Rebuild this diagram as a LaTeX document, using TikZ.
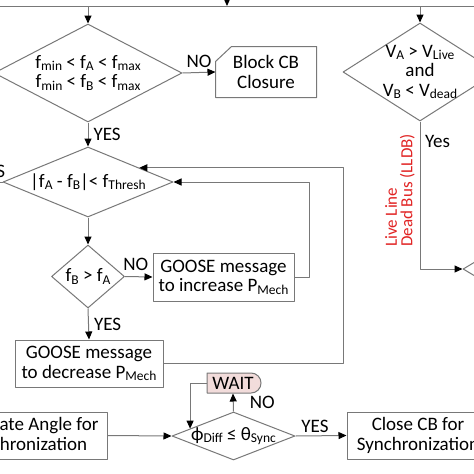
\documentclass[tikz,border=0pt]{standalone}
\usepackage{fontspec}
\setmainfont{Carlito}
\usetikzlibrary{arrows.meta,calc,shapes.geometric,shapes.misc}
\definecolor{lineg}{RGB}{120,120,120}
\definecolor{waitpink}{RGB}{242,220,219}
\definecolor{lldbred}{RGB}{225,35,35}
\newcommand{\subt}[1]{\raisebox{-2.5pt}{\fontsize{13.5}{13.5}\selectfont #1}}

\begin{document}
\begin{tikzpicture}[x=1pt,y=-1pt,>={Triangle[length=8pt,width=7pt,color=black]},
	line join=round,font=\fontsize{19}{19.5}\selectfont,
	wire/.style={draw=lineg,line width=1pt},
	arr/.style={wire,->},
	box/.style 2 args={wire,rectangle,inner sep=0pt,align=center,minimum width=#1,minimum height=#2},
	dia/.style n args={3}{wire,diamond,inner sep=0pt,minimum width=#1,minimum height=#2,
		label={[align=center,inner sep=0pt]center:{#3}}},
	lbl/.style={inner sep=0pt}]
	\useasboundingbox (0,0) rectangle (474,474);
	\clip (0,0) rectangle (474,474);
	\fill[white] (0,0) rectangle (474,474);
	% nodes
	\node[dia={188}{98}{f\subt{min} < f\subt{A} < f\subt{max}\\f\subt{min} < f\subt{B} < f\subt{max}}] (freq) at (88,73) {};
	\node[dia={154}{98}{V\subt{A} > V\subt{Live}\\and\\V\subt{B} < V\subt{dead}}] (live) at (420,72) {};
	\node[box={100}{50},draw=none] (block) at (266,72) {Block CB\\Closure};
	\node[dia={170}{70}{|f\subt{A} - f\subt{B}|< f\subt{Thresh}}] (thresh) at (88,182) {};
	\node[dia={73}{63}{f\subt{B} > f\subt{A}}] (cmp) at (88,276.5) {};
	\node[box={141}{48}] (incr) at (223.5,277) {GOOSE message\\to increase P\subt{Mech}};
	\node[box={148}{47}] (decr) at (89,363.5) {GOOSE message\\to decrease P\subt{Mech}};
	\node[box={162}{47}] (calc) at (26,435.5) {Calculate Angle for\\Synchronization};
	\node[dia={123}{48}{ϕ\subt{Diff} ≤ θ\subt{Sync}}] (sync) at (233.5,436) {};
	\node[wire,rounded rectangle,rounded rectangle west arc=none,fill=waitpink,inner sep=0pt,
		minimum width=54pt,minimum height=20pt] (wait) at (233,383) {WAIT};
	\node[box={142}{47}] (close) at (418,435.5) {Close CB for\\Synchronization};
	\node[dia={160}{96}{}] (rdia) at (543,269) {};
	\node[text=lldbred,rotate=90,align=left,inner sep=0pt,font=\fontsize{17}{15.5}\selectfont] (lldb) at (400,190.5) {Live Line\\Dead Bus (LLDB)};
	% bus on top
	\coordinate (busW) at (-10,6);
	\coordinate (busE) at (490,6);
	\coordinate (feed) at (227,-20);
	\draw[wire] (busW) -- (busE);
	\draw[arr] (feed) -- (feed |- busW);
	\draw[arr] (freq.north |- busW) -- (freq.north);
	\draw[arr] (live.north |- busW) -- (live.north);
	% frequency checks
	\draw[arr] (freq.east) -- node[lbl,above=4pt]{NO} (block.west);
	\draw[wire] (block.south west) -- ($(block.north west)+(0,15)$) -- ($(block.north west)+(16,0)$)
		-- (block.north east) -- (block.south east) -- cycle;
	\draw[arr] (freq.south) -- node[lbl,right=5pt]{YES} (thresh.north);
	\draw[wire] (thresh.west) -- node[lbl,above=4pt]{YES} ++(-22,0);
	\draw[arr] (thresh.south) -- (cmp.north);
	\draw[arr] (cmp.east) -- node[lbl,above=6pt,xshift=-3pt]{NO} (incr.west);
	\draw[arr] (cmp.south) -- node[lbl,right=5pt]{YES} (decr.north);
	\draw[arr] (incr.east) -- ++(15,0) |- (thresh.east);
	\coordinate (back) at ($(thresh.north)!0.6!(thresh.east)$);
	\draw[arr] (decr.east) -- ++(180,0) |- (back);
	% angle check
	\draw[arr] (calc.east) -- (sync.west);
	\draw[arr] (sync.north) -- node[lbl,right=16pt]{NO} (wait.south);
	\coordinate (retry) at ($(sync.west)!0.3!(sync.north)$);
	\draw[arr] (wait.west) -| (retry);
	\draw[arr] (sync.east) -- node[lbl,above=3pt,xshift=-6pt]{YES} (close.west);
	% live line dead bus
	\draw[arr] (live.south) |- (rdia.west);
	\node[lbl,anchor=north west] (yes) at ([xshift=5pt,yshift=-14pt]live.south) {Yes};
\end{tikzpicture}
\end{document}
